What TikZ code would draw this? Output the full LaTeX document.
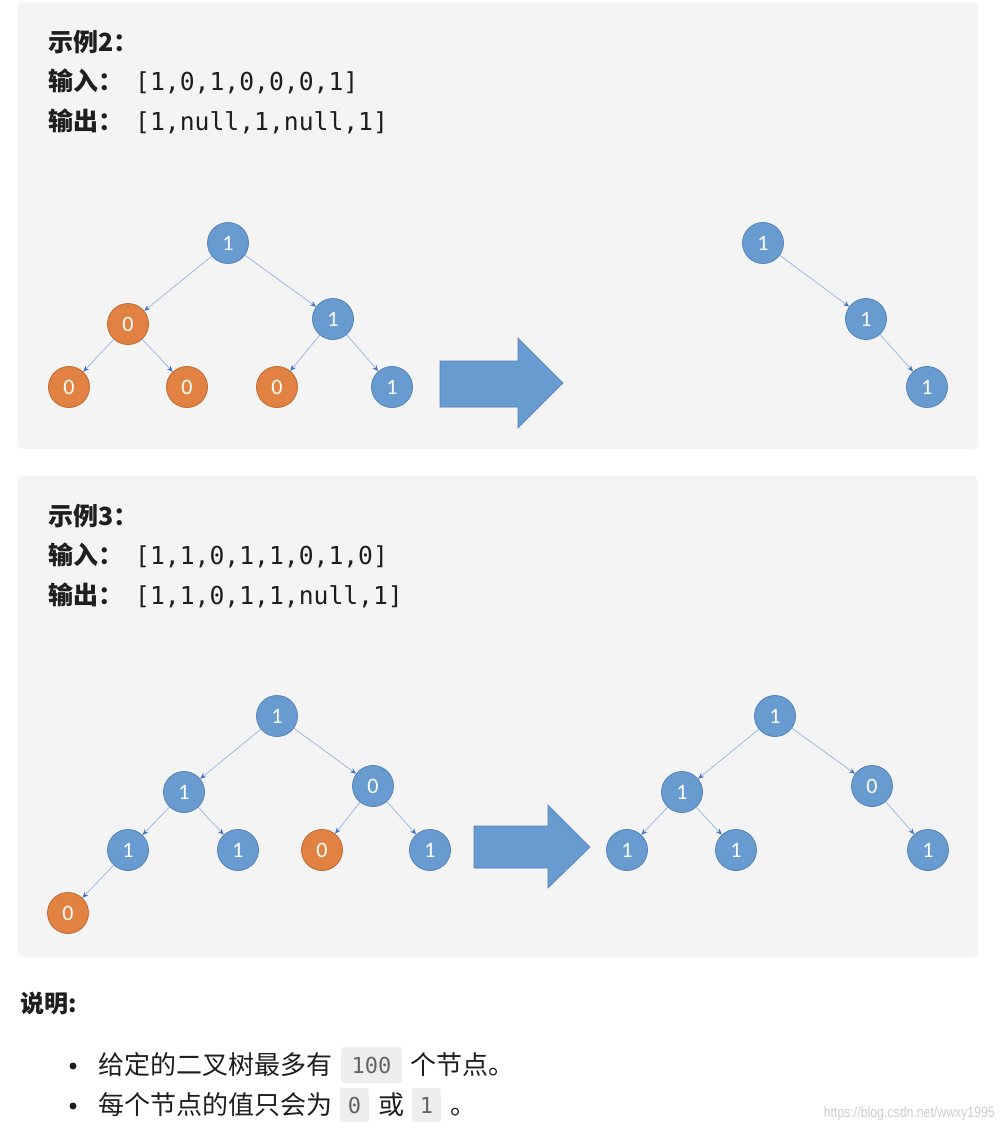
\documentclass[tikz,border=0pt]{standalone}
\usepackage{fontspec}
\usetikzlibrary{arrows.meta}
\newfontfamily\cjk{Noto Sans CJK SC}
\newfontfamily\monof{DejaVu Sans Mono}
\newfontfamily\numf{Carlito}
\newfontfamily\wmf{Liberation Sans}
\definecolor{panel}{RGB}{244,244,244}
\definecolor{bluefill}{RGB}{104,155,208}
\definecolor{blueedge}{RGB}{84,130,185}
\definecolor{orangefill}{RGB}{225,130,66}
\definecolor{orangeedge}{RGB}{190,105,50}
\definecolor{edgeline}{RGB}{150,178,226}
\definecolor{edgehead}{RGB}{68,114,196}
\definecolor{txtc}{RGB}{30,30,30}
\definecolor{codebg}{RGB}{238,238,238}
\definecolor{codetxt}{RGB}{100,100,100}
\definecolor{wmc}{RGB}{205,205,205}
\newcommand{\hd}{\cjk\bfseries\fontsize{25}{28}\selectfont}
\newcommand{\mn}{\monof\fontsize{24.7}{28}\selectfont}
\tikzset{
  x=1pt, y=-1pt,
  panelbox/.style={fill=panel, draw=none, rounded corners=5pt},
  txt/.style={anchor=base west, inner sep=0pt, text=txtc, font=\fontsize{25}{28}\selectfont},
  btxt/.style={anchor=base west, inner sep=0pt, text=txtc, font=\cjk\fontsize{26}{28}\selectfont},
  bnode/.style={circle, minimum size=41pt, inner sep=0pt, fill=bluefill, draw=blueedge, line width=0.8pt, text=white, font=\numf\fontsize{22}{24}\selectfont},
  onode/.style={bnode, fill=orangefill, draw=orangeedge},
  edge/.style={draw=edgeline, line width=0.7pt, -{Stealth[length=6pt,width=5pt,color=edgehead]}},
  bigarrow/.style={fill=bluefill, draw=blueedge, line width=0.6pt},
  codebox/.style={fill=codebg, rounded corners=3pt, inner sep=0pt, text=codetxt, font=\monof\fontsize{22}{24}\selectfont},
}
\begin{document}
\begin{tikzpicture}
\useasboundingbox[fill=white] (0,0) rectangle (1002,1130);
% panels
\fill[panelbox] (18,2) rectangle (978,449);
\fill[panelbox] (18,476) rectangle (978,957);

% example 2 text
\node[txt] (h2) at (48,51) {\hd 示例2：};
\node[txt] (in2) at (48,90) {{\hd 输入：}\hspace{12pt}{\mn[1,0,1,0,0,0,1]}};
\node[txt] (out2) at (48,130) {{\hd 输出：}\hspace{12pt}{\mn[1,null,1,null,1]}};

% tree 1 left
\node[bnode] (a1) at (228,243) {1};
\node[onode] (a2) at (128,324) {0};
\node[bnode] (a3) at (333,319) {1};
\node[onode] (a4) at (69,387) {0};
\node[onode] (a5) at (187,387) {0};
\node[onode] (a6) at (277,387) {0};
\node[bnode] (a7) at (392,387) {1};
\draw[edge] (a1) -- (a2);
\draw[edge] (a1) -- (a3);
\draw[edge] (a2) -- (a4);
\draw[edge] (a2) -- (a5);
\draw[edge] (a3) -- (a6);
\draw[edge] (a3) -- (a7);

% big arrow 1
\draw[bigarrow] (440,361) -- (518,361) -- (518,338) -- (563,383) -- (518,428) -- (518,407) -- (440,407) -- cycle;

% tree 1 right
\node[bnode] (b1) at (763,243) {1};
\node[bnode] (b2) at (866,319) {1};
\node[bnode] (b3) at (927,387) {1};
\draw[edge] (b1) -- (b2);
\draw[edge] (b2) -- (b3);

% example 3 text
\node[txt] (h3) at (48,525) {\hd 示例3：};
\node[txt] (in3) at (48,564) {{\hd 输入：}\hspace{12pt}{\mn[1,1,0,1,1,0,1,0]}};
\node[txt] (out3) at (48,604) {{\hd 输出：}\hspace{12pt}{\mn[1,1,0,1,1,null,1]}};

% tree 2 left
\node[bnode] (c1) at (277,716) {1};
\node[bnode] (c2) at (184,792) {1};
\node[bnode] (c3) at (373,786) {0};
\node[bnode] (c4) at (128,850) {1};
\node[bnode] (c5) at (238,850) {1};
\node[onode] (c6) at (322,850) {0};
\node[bnode] (c7) at (430,850) {1};
\node[onode] (c8) at (68,913) {0};
\draw[edge] (c1) -- (c2);
\draw[edge] (c1) -- (c3);
\draw[edge] (c2) -- (c4);
\draw[edge] (c2) -- (c5);
\draw[edge] (c3) -- (c6);
\draw[edge] (c3) -- (c7);
\draw[edge] (c4) -- (c8);

% big arrow 2
\draw[bigarrow] (474,826) -- (548,826) -- (548,805) -- (590,847) -- (548,888) -- (548,868) -- (474,868) -- cycle;

% tree 2 right
\node[bnode] (d1) at (775,716) {1};
\node[bnode] (d2) at (682,792) {1};
\node[bnode] (d3) at (872,786) {0};
\node[bnode] (d4) at (627,850) {1};
\node[bnode] (d5) at (736,850) {1};
\node[bnode] (d7) at (928,850) {1};
\draw[edge] (d1) -- (d2);
\draw[edge] (d1) -- (d3);
\draw[edge] (d2) -- (d4);
\draw[edge] (d2) -- (d5);
\draw[edge] (d3) -- (d7);

% notes
\node[txt] (note) at (20,1012) {\cjk\bfseries\fontsize{24}{28}\selectfont 说明:};
\fill[txtc] (73,1066) circle (3.5pt);
\fill[txtc] (73,1106) circle (3.5pt);
\node[btxt] (l1a) at (98,1074) {给定的二叉树最多有};
\node[codebox, minimum width=61pt, minimum height=36pt] (c100) at (371.5,1065) {100};
\node[btxt] (l1b) at (410,1074) {个节点。};
\node[btxt] (l2a) at (98,1114) {每个节点的值只会为};
\node[codebox, minimum width=29pt, minimum height=34pt] (c0) at (354.5,1105) {0};
\node[btxt] (l2b) at (378,1114) {或};
\node[codebox, minimum width=29pt, minimum height=34pt] (c1b) at (426.5,1105) {1};
\node[btxt] (l2c) at (450,1114) {。};

% watermark
\node[anchor=base east, inner sep=0pt, text=wmc] (wm) at (995,1117) {\scalebox{0.82}[1]{\wmf\fontsize{15}{17}\selectfont https://blog.csdn.net/wwxy1995}};
\end{tikzpicture}
\end{document}
